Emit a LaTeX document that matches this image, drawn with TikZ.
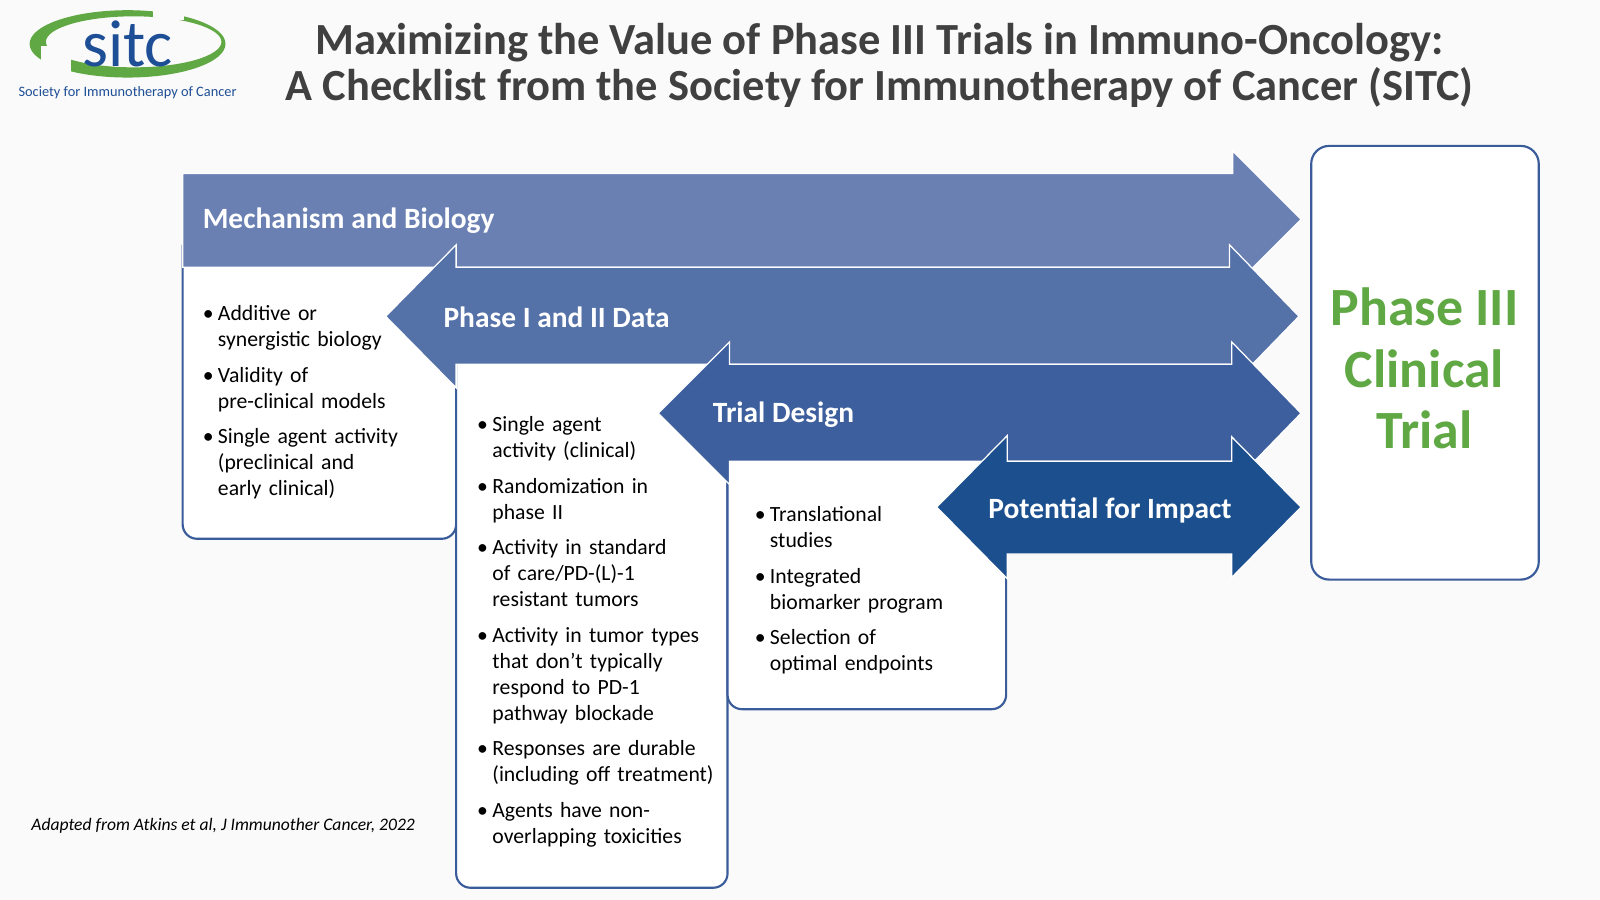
\documentclass[tikz,border=0pt]{standalone}
\usepackage{fontspec}
\setmainfont{Carlito}
\definecolor{bgc}{HTML}{FAFAFA}
\definecolor{aone}{HTML}{6A80B3}
\definecolor{atwo}{HTML}{5471A8}
\definecolor{athree}{HTML}{3E5F9D}
\definecolor{afour}{HTML}{1B4F8E}
\definecolor{boxb}{HTML}{3A5C9A}
\definecolor{grn}{HTML}{5FA843}
\definecolor{ttl}{HTML}{404040}
\definecolor{logob}{HTML}{1E4E96}
\newcommand\itm[1]{\par\hangindent=0.7em\hangafter=1\noindent\makebox[0.7em][l]{\textbullet}#1\par\vspace{2.7pt}}
\begin{document}
\begin{tikzpicture}[x=0.01cm,y=-0.01cm,
  arr/.style={draw=white,line width=0.35pt},
  lbl/.style={text=white,font=\fontsize{8.2}{9}\selectfont\bfseries,anchor=west,inner sep=0},
  cbox/.style={fill=white,draw=boxb,line width=0.6pt,rounded corners=4pt},
  blist/.style={anchor=north west,inner sep=0,align=left,font=\fontsize{6.05}{7.23}\selectfont}]
\useasboundingbox[fill=bgc] (0,0) rectangle (1568,882);
% logo
\fill[grn,even odd rule] (125,43) ellipse [x radius=96,y radius=33] (131,41) ellipse [x radius=86,y radius=25];
\fill[bgc] (150,0) rectangle (180,20);
\fill[bgc] (40,45) rectangle (70,80);
\node[text=logob,font=\fontsize{18.5}{19}\selectfont,inner sep=0] (sitc) at (125,43) {sitc};
\node[text=logob,font=\fontsize{4}{5}\selectfont,inner sep=0] (soc) at (125,91) {Society for Immunotherapy of Cancer};
% title
\node[text=ttl,font=\fontsize{12.4}{12.8}\selectfont\bfseries,align=center,inner sep=0] (title) at (862,64)
 {Maximizing the Value of Phase III Trials in Immuno-Oncology:\\A Checklist from the Society for Immunotherapy of Cancer (SITC)};
% boxes
\draw[cbox] (179,240) -- (179,528) -- (447,528) -- (447,240);
\draw[cbox] (447,340) -- (447,870) -- (713,870) -- (713,340);
\draw[cbox] (713,430) -- (713,695) -- (986,695) -- (986,430);
% arrows
\path[fill=aone,arr] (179,170) -- (1208,170) -- (1208,148) -- (1275,215) -- (1208,282) -- (1208,262) -- (179,262) -- cycle;
\path[fill=atwo,arr] (378,310) -- (447,240) -- (447,262) -- (1205,262) -- (1205,240) -- (1273,310) -- (1205,380) -- (1205,357) -- (447,357) -- (447,380) -- cycle;
\path[fill=athree,arr] (645,405) -- (715,335) -- (715,357) -- (1207,357) -- (1207,335) -- (1275,405) -- (1207,475) -- (1207,452) -- (715,452) -- (715,475) -- cycle;
\path[fill=afour,arr] (918,497) -- (987,427) -- (987,452) -- (1207,452) -- (1207,428) -- (1275,497) -- (1207,566) -- (1207,543) -- (987,543) -- (987,567) -- cycle;
\node[lbl] (l1) at (198,216) {Mechanism and Biology};
\node[lbl] (l2) at (434,311) {Phase I and II Data};
\node[lbl] (l3) at (698,406) {Trial Design};
\node[lbl] (l4) at (968,500) {Potential for Impact};
% phase III
\draw[fill=white,draw=boxb,line width=0.6pt,rounded corners=5pt] (1285,143) rectangle (1508,568);
\node[text=grn,font=\fontsize{15}{17.2}\selectfont\bfseries,align=center,inner sep=0] (p3) at (1396,361) {Phase III\\Clinical\\Trial};
% lists
\node[blist,text width=190] (b1) at (198,288) {\raggedright
\itm{Additive or\newline synergistic biology}
\itm{Validity of\newline pre-clinical models}
\itm{Single agent activity\newline (preclinical and\newline early clinical)}};
\node[blist,text width=250] (b2) at (467,397) {\raggedright
\itm{Single agent\newline activity (clinical)}
\itm{Randomization in\newline phase II}
\itm{Activity in standard\newline of care/PD-(L)-1\newline resistant tumors}
\itm{Activity in tumor types\newline that don’t typically\newline respond to PD-1\newline pathway blockade}
\itm{Responses are durable\newline (including off treatment)}
\itm{Agents have non-\newline overlapping toxicities}};
\node[blist,text width=250] (b3) at (739,485) {\raggedright
\itm{Translational\newline studies}
\itm{Integrated\newline biomarker program}
\itm{Selection of\newline optimal endpoints}};
\node[anchor=west,inner sep=0,font=\fontsize{4.9}{6}\selectfont\itshape] (fn) at (30,809) {Adapted from Atkins et al, J Immunother Cancer, 2022};
\end{tikzpicture}
\end{document}
